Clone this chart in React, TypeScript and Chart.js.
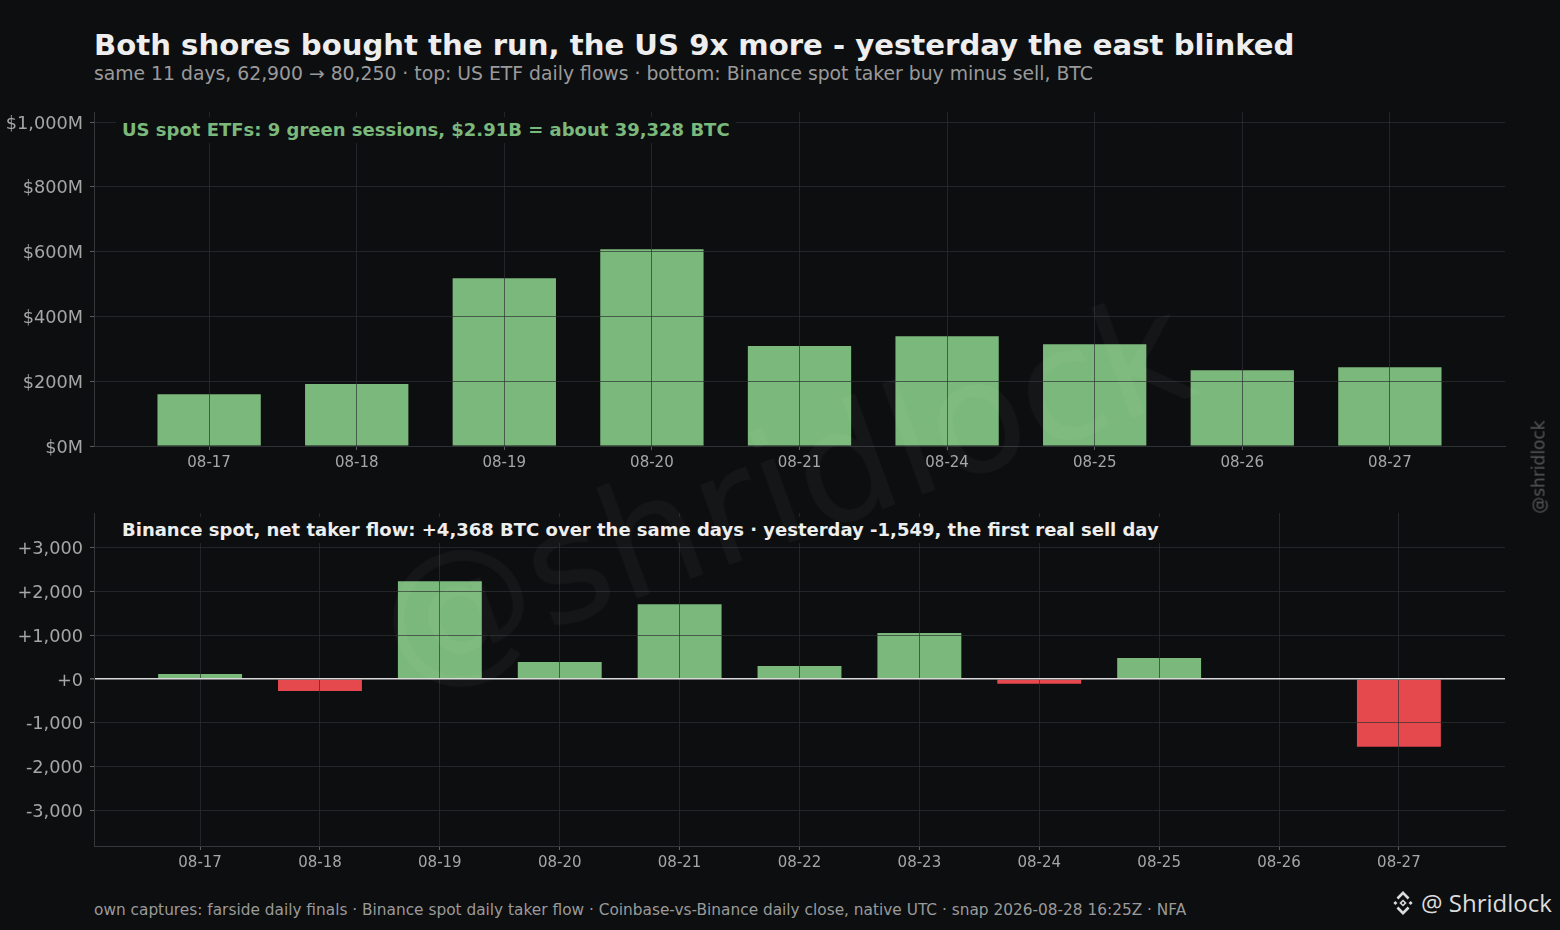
import React, { useEffect, useRef } from "react";
import { Chart, registerables } from "chart.js";

Chart.register(...registerables);

// ---------- data ----------
const etfDays = ["08-17", "08-18", "08-19", "08-20", "08-21", "08-24", "08-25", "08-26", "08-27"];
const etfFlowsM = [160, 191, 518, 607, 309, 339, 314, 234, 243];
const etfTicks = [0, 200, 400, 600, 800, 1000];

const binanceDays = ["08-17", "08-18", "08-19", "08-20", "08-21", "08-22", "08-23", "08-24", "08-25", "08-26", "08-27"];
const binanceNetBtc = [114, -274, 2237, 388, 1712, 297, 1050, -107, 480, 20, -1549];
const binanceTicks = [-3000, -2000, -1000, 0, 1000, 2000, 3000];

// ---------- style ----------
const BG = "#0d0e10";
const GREEN = "#7bb87b";
const RED = "#e5484d";
const GRID = "rgba(46,48,52,0.68)";
const AXIS = "#34363a";
const TICKMARK = "#5a5c60";
const LABEL = "#a6a6a6";
const FONT = "'DejaVu Sans', sans-serif";

function fmtUsd(v: number) {
  return "$" + v.toLocaleString("en-US") + "M";
}
function fmtBtc(v: number) {
  if (v === 0) return "+0";
  return (v > 0 ? "+" : "-") + Math.abs(v).toLocaleString("en-US");
}

function makeChart(
  canvas: HTMLCanvasElement,
  days: string[],
  values: number[],
  ticks: number[],
  yMin: number,
  yMax: number,
  xPad: number,
  fmt: (v: number) => string,
  zeroLine: boolean,
  padTop: number
) {
  return new Chart(canvas, {
    type: "bar",
    data: {
      datasets: [
        {
          data: days.map((_, i) => ({ x: i, y: values[i] })),
          backgroundColor: values.map((v) => (v < 0 ? RED : GREEN)),
          borderWidth: 0,
          barPercentage: 1,
          categoryPercentage: 0.7,
        },
      ],
    },
    options: {
      animation: false,
      responsive: false,
      maintainAspectRatio: false,
      layout: { padding: { top: padTop, right: 55, left: 0, bottom: 0 } },
      plugins: {
        legend: { display: false },
        tooltip: { enabled: false },
        title: { display: false },
      },
      scales: {
        x: {
          type: "linear",
          offset: false,
          min: -xPad,
          max: days.length - 1 + xPad,
          afterBuildTicks: (s: any) => {
            s.ticks = days.map((_, i) => ({ value: i }));
          },
          afterFit: (s: any) => {
            s.height = 34;
            s.paddingLeft = 0;
            s.paddingRight = 0;
          },
          ticks: {
            autoSkip: false,
            maxRotation: 0,
            minRotation: 0,
            padding: 4,
            color: LABEL,
            font: { family: FONT, size: 15 },
            callback: (v: any) => days[Math.round(Number(v))] ?? "",
          },
          grid: {
            z: 1,
            offset: false,
            color: GRID,
            lineWidth: 1,
            tickLength: 4,
            tickColor: TICKMARK,
          },
          border: { z: 1, color: AXIS, width: 1 },
        },
        y: {
          type: "linear",
          min: yMin,
          max: yMax,
          afterBuildTicks: (s: any) => {
            s.ticks = ticks.map((v) => ({ value: v }));
          },
          afterFit: (s: any) => {
            s.width = 94;
            s.paddingTop = 0;
            s.paddingBottom = 0;
          },
          ticks: {
            padding: 7,
            labelOffset: 2,
            color: LABEL,
            font: { family: FONT, size: 17.7 },
            callback: (v: any) => fmt(Number(v)),
          },
          grid: {
            z: 1,
            color: (ctx: any) =>
              zeroLine && ctx.tick && ctx.tick.value === 0 ? "#d9d9d9" : GRID,
            lineWidth: (ctx: any) =>
              zeroLine && ctx.tick && ctx.tick.value === 0 ? 1.6 : 1,
            tickLength: 4,
            tickColor: TICKMARK,
          },
          border: { z: 1, color: AXIS, width: 1 },
        },
      },
    },
  } as any);
}

function BinanceIcon() {
  return (
    <svg width="26" height="26" viewBox="-13 -13 26 26" style={{ position: "absolute", left: 1390, top: 890 }}>
      <g fill="#dcdcdc">
        <polygon points="0,-12 6.5,-5.5 4.6,-3.6 0,-8.2 -4.6,-3.6 -6.5,-5.5" />
        <polygon points="0,12 6.5,5.5 4.6,3.6 0,8.2 -4.6,3.6 -6.5,5.5" />
        <polygon points="-9.6,0 -7.6,-2 -5.6,0 -7.6,2" />
        <polygon points="9.6,0 7.6,-2 5.6,0 7.6,2" />
        <polygon points="0,-3.6 3.6,0 0,3.6 -3.6,0" />
      </g>
      <polygon points="0,-1.4 1.4,0 0,1.4 -1.4,0" fill={BG} />
    </svg>
  );
}

export default function App() {
  const topRef = useRef<HTMLCanvasElement>(null);
  const botRef = useRef<HTMLCanvasElement>(null);

  useEffect(() => {
    const c1 = makeChart(topRef.current!, etfDays, etfFlowsM, etfTicks, 0, 1031, 0.78, fmtUsd, false, 12);
    const c2 = makeChart(botRef.current!, binanceDays, binanceNetBtc, binanceTicks, -3815, 3795, 0.885, fmtBtc, true, 13);
    return () => {
      c1.destroy();
      c2.destroy();
    };
  }, []);

  const abs: React.CSSProperties = { position: "absolute", whiteSpace: "nowrap", fontFamily: FONT, lineHeight: 1 };

  return (
    <div style={{ position: "fixed", left: 0, top: 0, width: 1560, height: 930, background: BG, overflow: "hidden" }}>
      <div style={{ ...abs, left: 94, top: 31, fontSize: 29.15, fontWeight: 700, color: "#eeeeee" }}>
        Both shores bought the run, the US 9x more - yesterday the east blinked
      </div>
      <div style={{ ...abs, left: 94, top: 64.5, fontSize: 18.8, color: "#9a9a9a" }}>
        same 11 days, 62,900 → 80,250 · top: US ETF daily flows · bottom: Binance spot taker buy minus sell, BTC
      </div>

      <canvas ref={topRef} width={1560} height={380} style={{ position: "absolute", left: 0, top: 100, width: 1560, height: 380 }} />
      <canvas ref={botRef} width={1560} height={380} style={{ position: "absolute", left: 0, top: 500, width: 1560, height: 380 }} />

      <div
        style={{
          ...abs,
          left: 116,
          top: 117,
          height: 26,
          lineHeight: "26px",
          padding: "0 6px",
          background: BG,
          fontSize: 18,
          fontWeight: 700,
          color: GREEN,
        }}
      >
        US spot ETFs: 9 green sessions, $2.91B = about 39,328 BTC
      </div>
      <div
        style={{
          ...abs,
          left: 116,
          top: 517,
          height: 26,
          lineHeight: "26px",
          padding: "0 6px",
          background: BG,
          fontSize: 18,
          fontWeight: 700,
          color: "#eeeeee",
        }}
      >
        Binance spot, net taker flow: +4,368 BTC over the same days · yesterday -1,549, the first real sell day
      </div>

      <div style={{ ...abs, left: 94, top: 903, fontSize: 15.35, color: "#9a9a9a" }}>
        own captures: farside daily finals · Binance spot daily taker flow · Coinbase-vs-Binance daily close, native UTC · snap 2026-08-28 16:25Z · NFA
      </div>

      <div
        style={{
          ...abs,
          left: 1539,
          top: 467,
          fontSize: 17,
          color: "#555658",
          transform: "translate(-50%, -50%) rotate(-90deg)",
        }}
      >
        @shridlock
      </div>

      <BinanceIcon />
      <div style={{ ...abs, left: 1421, top: 891, fontSize: 24, color: "#dcdcdc", fontFamily: "'Open Sans', sans-serif" }}>
        @ Shridlock
      </div>

      <div
        style={{
          ...abs,
          left: 784,
          top: 488,
          fontSize: 155,
          color: "rgba(255,255,255,0.032)",
          transform: "translate(-50%, -50%) rotate(-20deg)",
          pointerEvents: "none",
        }}
      >
        @shridlock
      </div>
    </div>
  );
}
